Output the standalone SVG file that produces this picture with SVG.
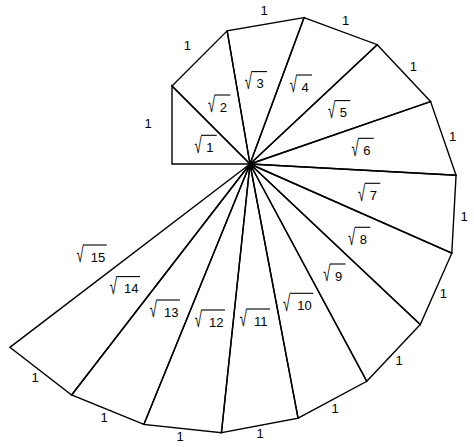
<svg xmlns="http://www.w3.org/2000/svg" width="474" height="447" viewBox="0 0 474 447">
<style>
.tri{fill:none;stroke:#000;stroke-width:1.4;stroke-linejoin:miter}
.one{font-family:"Liberation Sans",Arial,sans-serif;font-size:13px;fill:#000;text-anchor:middle}
.num{font-family:"Liberation Sans",Arial,sans-serif;font-size:13px;fill:#000}
.rad{font-family:"Liberation Sans",Arial,sans-serif;font-size:21.5px;fill:#000}
.bar{stroke:#000;stroke-width:1.1}
</style>
<defs>
<g id="sq1"><text class="rad" transform="scale(0.6,1)" x="-0.5" y="0.5">√</text><line class="bar" x1="6.3" y1="-16.7" x2="22" y2="-16.7"/></g>
<g id="sq2"><text class="rad" transform="scale(0.6,1)" x="-0.5" y="0.5">√</text><line class="bar" x1="6.3" y1="-16.7" x2="30" y2="-16.7"/></g>
</defs>
<rect width="474" height="447" fill="#fff"/>
<g id="triangles">
<g id="t1"><polygon class="tri" points="250,164 172,164 172,86"/></g>
<g id="t2"><polygon class="tri" points="250,164 172,86 227.15,30.85"/></g>
<g id="t3"><polygon class="tri" points="250,164 227.15,30.85 304.03,17.66"/></g>
<g id="t4"><polygon class="tri" points="250,164 304.03,17.66 377.2,44.67"/></g>
<g id="t5"><polygon class="tri" points="250,164 377.2,44.67 430.57,101.56"/></g>
<g id="t6"><polygon class="tri" points="250,164 430.57,101.56 456.06,175.28"/></g>
<g id="t7"><polygon class="tri" points="250,164 456.06,175.28 451.8,253.16"/></g>
<g id="t8"><polygon class="tri" points="250,164 451.8,253.16 420.28,324.51"/></g>
<g id="t9"><polygon class="tri" points="250,164 420.28,324.51 366.77,381.27"/></g>
<g id="t10"><polygon class="tri" points="250,164 366.77,381.27 298.07,418.19"/></g>
<g id="t11"><polygon class="tri" points="250,164 298.07,418.19 221.43,432.69"/></g>
<g id="t12"><polygon class="tri" points="250,164 221.43,432.69 143.86,424.44"/></g>
<g id="t13"><polygon class="tri" points="250,164 143.86,424.44 71.63,395"/></g>
<g id="t14"><polygon class="tri" points="250,164 71.63,395 9.89,347.33"/></g>
</g>
<g id="unit-labels">
<text class="one" x="148" y="127.5">1</text>
<text class="one" x="187.3" y="49.5">1</text>
<text class="one" x="264" y="14.5">1</text>
<text class="one" x="345.7" y="24.5">1</text>
<text class="one" x="413.3" y="71.2">1</text>
<text class="one" x="452.7" y="140.5">1</text>
<text class="one" x="464" y="221.2">1</text>
<text class="one" x="443.3" y="297.8">1</text>
<text class="one" x="399" y="364.5">1</text>
<text class="one" x="335" y="412.8">1</text>
<text class="one" x="260" y="437.8">1</text>
<text class="one" x="180" y="441.2">1</text>
<text class="one" x="104" y="421.8">1</text>
<text class="one" x="35" y="382.2">1</text>
</g>
<g id="root-labels">
<g id="r1" transform="translate(194.7,152)"><use href="#sq1"/><text class="num" x="11.5" y="0">1</text></g>
<g id="r2" transform="translate(208.3,111.7)"><use href="#sq1"/><text class="num" x="11.5" y="0">2</text></g>
<g id="r3" transform="translate(245,88.3)"><use href="#sq1"/><text class="num" x="11.5" y="0">3</text></g>
<g id="r4" transform="translate(290,91.7)"><use href="#sq1"/><text class="num" x="11.5" y="0">4</text></g>
<g id="r5" transform="translate(328.3,117.3)"><use href="#sq1"/><text class="num" x="11.5" y="0">5</text></g>
<g id="r6" transform="translate(351.7,155)"><use href="#sq1"/><text class="num" x="11.5" y="0">6</text></g>
<g id="r7" transform="translate(358.3,200)"><use href="#sq1"/><text class="num" x="11.5" y="0">7</text></g>
<g id="r8" transform="translate(348.3,244)"><use href="#sq1"/><text class="num" x="11.5" y="0">8</text></g>
<g id="r9" transform="translate(323.5,280.7)"><use href="#sq1"/><text class="num" x="11.5" y="0">9</text></g>
<g id="r10" transform="translate(283.3,310)"><use href="#sq2"/><text class="num" x="14" y="0">10</text></g>
<g id="r11" transform="translate(240,325.7)"><use href="#sq2"/><text class="num" x="14" y="0">11</text></g>
<g id="r12" transform="translate(195,326.7)"><use href="#sq2"/><text class="num" x="14" y="0">12</text></g>
<g id="r13" transform="translate(150,316.7)"><use href="#sq2"/><text class="num" x="14" y="0">13</text></g>
<g id="r14" transform="translate(110,293.3)"><use href="#sq2"/><text class="num" x="14" y="0">14</text></g>
<g id="r15" transform="translate(76.7,261.7)"><use href="#sq2"/><text class="num" x="14" y="0">15</text></g>
</g>
</svg>
